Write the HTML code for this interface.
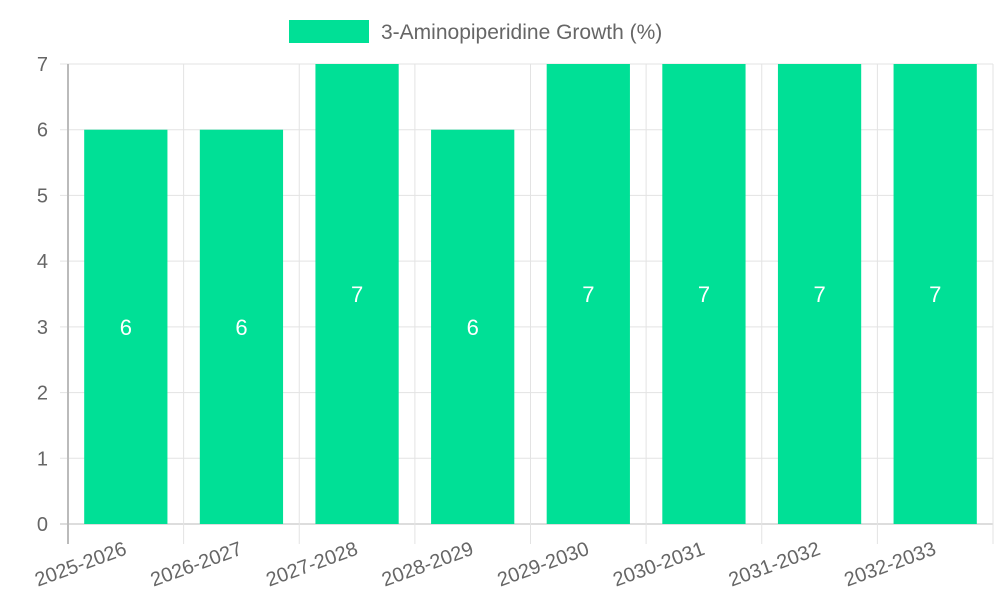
<!DOCTYPE html>
<html><head><meta charset="utf-8"><style>
body{margin:0;background:#fff;font-family:"Liberation Sans",sans-serif}
svg text{font-family:"Liberation Sans",sans-serif}
</style></head><body>
<svg id="c" width="1000" height="600"></svg>
<script>
const categories=["2025-2026","2026-2027","2027-2028","2028-2029","2029-2030","2030-2031","2031-2032","2032-2033"];
const values=[6,6,7,6,7,7,7,7];
const yTicks=[0,1,2,3,4,5,6,7];
const NS="http://www.w3.org/2000/svg";
const svg=document.getElementById('c');
const L=68,R=993,T=64,B=524,yMax=7;
const band=(R-L)/categories.length;
const x=i=>L+band*i;
const y=v=>B-(B-T)*v/yMax;
function mk(t,a,p){const e=document.createElementNS(NS,t);for(const k in a)e.setAttribute(k,a[k]);(p||svg).appendChild(e);return e;}
// grid
const grid=mk('g',{});


yTicks.forEach(v=>{mk('line',{x1:L-8,x2:R,y1:y(v),y2:y(v),stroke:v===0?'#bbb':'#e3e3e3','stroke-width':1},grid);
 const t=mk('text',{x:L-20,y:y(v)+7,'text-anchor':'end','font-size':20,fill:'#666'});t.textContent=v;
 
 });
for(let i=0;i<=categories.length;i++){mk('line',{x1:x(i),x2:x(i),y1:T,y2:B+20,stroke:i===0?'#bbb':'#e3e3e3','stroke-width':i===0?2:1},grid);}
// bars
categories.forEach((c,i)=>{
 const bw=band*0.72,bx=x(i)+(band-bw)/2;
 const r=mk('rect',{x:bx,y:y(values[i]),width:bw,height:B-y(values[i]),fill:'#00e096'});
 
 
 const vt=mk('text',{x:x(i)+band/2,y:(y(values[i])+B)/2+8,'text-anchor':'middle','font-size':22,fill:'#fff'});vt.textContent=values[i];
 
 
 const cx=x(i)+band/2+2,cy=B+30;
 const lt=mk('text',{x:cx,y:cy,'text-anchor':'end','font-size':20,fill:'#666',transform:`rotate(-20 ${cx} ${cy})`});lt.textContent=c;
 
 
});
// legend
const lg=mk('g',{});


mk('rect',{x:289,y:20,width:80,height:23,fill:'#00e096'},lg);
const ltx=mk('text',{x:381,y:39,'font-size':21,fill:'#666'},lg);ltx.textContent='3-Aminopiperidine Growth (%)';
</script>
</body></html>
